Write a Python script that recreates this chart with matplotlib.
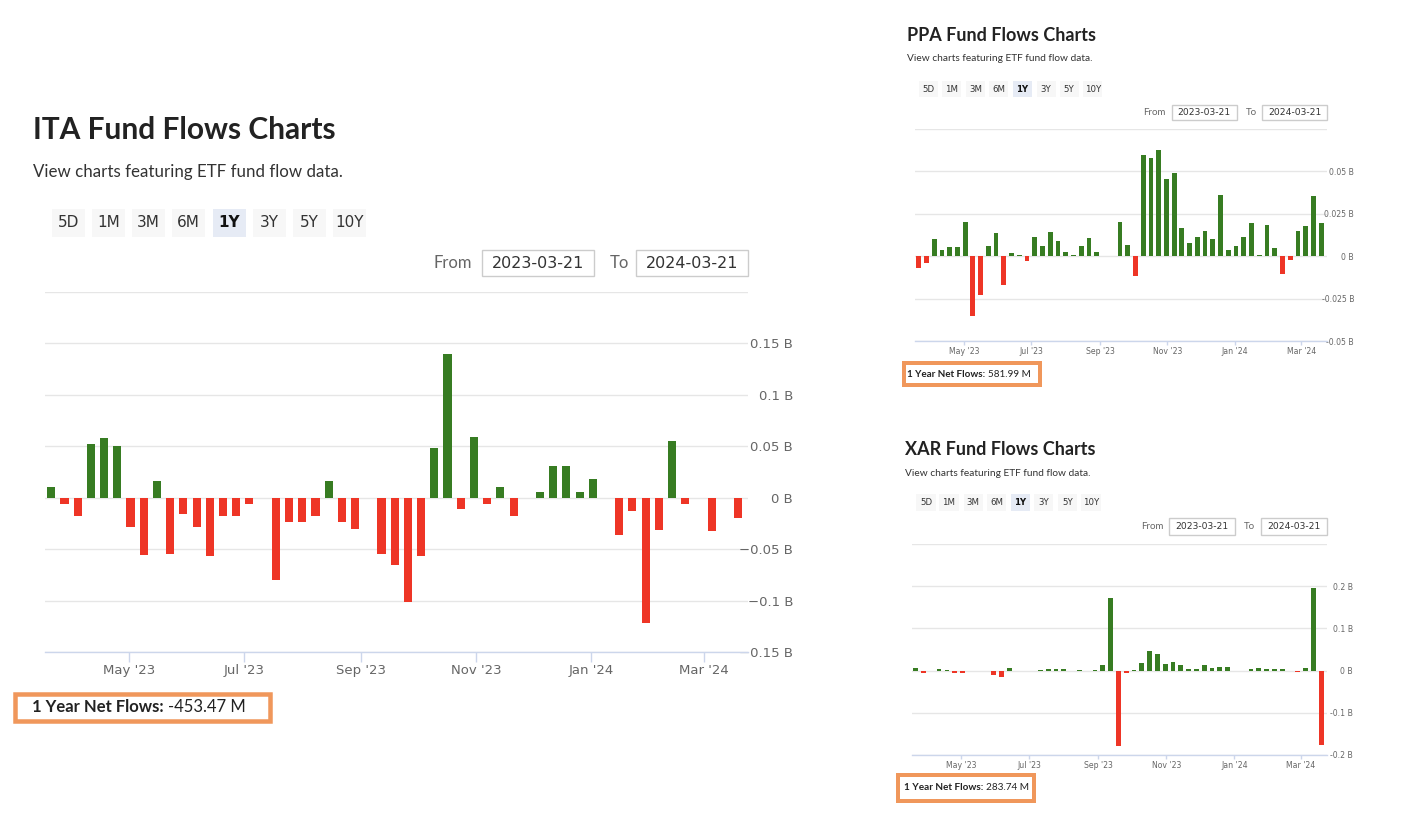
import matplotlib
matplotlib.use('Agg')
import matplotlib.pyplot as plt
import matplotlib.dates as mdates
from matplotlib.patches import Rectangle
import pandas as pd

# weekly fund flows, in billions of dollars
weeks = pd.date_range('2023-03-21', periods=53, freq='7D')

ita_flows = [0.010, -0.006, -0.018, 0.052, 0.058, 0.050, -0.028, -0.056, 0.016, -0.055,
             -0.016, -0.028, -0.057, -0.018, -0.018, -0.006, 0.0, -0.080, -0.024, -0.024,
             -0.018, 0.016, -0.024, -0.030, 0.0, -0.055, -0.065, -0.101, -0.057, 0.048,
             0.140, -0.011, 0.059, -0.006, 0.010, -0.018, 0.0, 0.006, 0.031, 0.031,
             0.006, 0.018, 0.0, -0.036, -0.013, -0.122, -0.031, 0.055, -0.006, 0.0,
             -0.032, 0.0, -0.020]

ppa_flows = [-0.0071, -0.0040, 0.0103, 0.0038, 0.0053, 0.0053, 0.0204, -0.0350, -0.0231, 0.0059,
             0.0136, -0.0168, 0.0020, 0.0008, -0.0028, 0.0115, 0.0063, 0.0140, 0.0089, 0.0024,
             0.0008, 0.0063, 0.0107, 0.0024, 0.0, 0.0, 0.0204, 0.0067, -0.0119, 0.0599,
             0.0581, 0.0624, 0.0458, 0.0490, 0.0168, 0.0077, 0.0111, 0.0146, 0.0099, 0.0360,
             0.0034, 0.0059, 0.0115, 0.0194, 0.0008, 0.0182, 0.0049, -0.0107, -0.0024, 0.0150,
             0.0176, 0.0356, 0.0194]

xar_flows = [0.007, -0.006, 0.0, 0.004, 0.001, -0.005, -0.006, 0.0, 0.0, 0.0,
             -0.010, -0.014, 0.007, 0.0, 0.0, 0.0, 0.0024, 0.003, 0.0047, 0.0047,
             0.0, 0.0024, 0.0, 0.0024, 0.0126, 0.172, -0.178, -0.006, 0.0016, 0.018,
             0.046, 0.0386, 0.0165, 0.0205, 0.014, 0.004, 0.003, 0.014, 0.0055, 0.0094,
             0.0094, 0.0, 0.0, 0.003, 0.0063, 0.003, 0.003, 0.003, 0.0, -0.004,
             0.0055, 0.195, -0.176]

month_ticks = pd.to_datetime(['2023-05-01', '2023-07-01', '2023-09-01',
                              '2023-11-01', '2024-01-01', '2024-03-01'])
month_labels = ["May '23", "Jul '23", "Sep '23", "Nov '23", "Jan '24", "Mar '24"]

ita_ticks = [-0.15, -0.1, -0.05, 0, 0.05, 0.1, 0.15, 0.2]
ita_labels = ['\u22120.15 B', '\u22120.1 B', '\u22120.05 B', '0 B', '0.05 B', '0.1 B', '0.15 B', '']
ppa_ticks = [-0.05, -0.025, 0, 0.025, 0.05, 0.075]
ppa_labels = ['-0.05 B', '-0.025 B', '0 B', '0.025 B', '0.05 B', '']
xar_ticks = [-0.2, -0.1, 0, 0.1, 0.2, 0.3]
xar_labels = ['-0.2 B', '-0.1 B', '0 B', '0.1 B', '0.2 B', '']

buttons = ['5D', '1M', '3M', '6M', '1Y', '3Y', '5Y', '10Y']
net_flows = {'ITA': '-453.47 M', 'PPA': '581.99 M', 'XAR': '283.74 M'}

GREEN = '#377c22'
RED = '#ee3526'
GRID = '#e6e6e6'
AXIS = '#ccd6eb'
GRAY = '#666666'
ORANGE = '#f0975b'

W, H = 1406, 824
fig = plt.figure(figsize=(W / 100, H / 100), dpi=100)

# overlay in pixel coordinates for the page furniture
ov = fig.add_axes([0, 0, 1, 1])
ov.set_xlim(0, W)
ov.set_ylim(H, 0)
ov.axis('off')


def px_axes(l, t, r, b):
    ax = fig.add_axes([l / W, 1 - b / H, (r - l) / W, (b - t) / H])
    ax.set_facecolor('none')
    ax.set_zorder(2)
    return ax


def header(x, y_title, y_sub, title, tsize, ssize):
    ov.text(x, y_title, title, fontfamily='Lato', fontweight='bold', fontsize=tsize,
            color='#222222', va='center', ha='left')
    ov.text(x, y_sub, 'View charts featuring ETF fund flow data.', fontfamily='Lato',
            fontsize=ssize, color='#333333', va='center', ha='left')


def button_row(centers, yc, w, h, fs):
    for name, cx in zip(buttons, centers):
        sel = name == '1Y'
        ov.add_patch(Rectangle((cx - w / 2, yc - h / 2), w, h,
                               facecolor='#e6ebf5' if sel else '#f7f7f7', edgecolor='none'))
        ov.text(cx, yc, name, fontsize=fs, ha='center', va='center',
                color='#111111' if sel else '#333333',
                fontweight='bold' if sel else 'normal', fontfamily='DejaVu Sans')


def date_range(from_x, to_x, box1, box2, yc, h, fs, lfs):
    ov.text(from_x, yc, 'From', fontfamily='Lato', fontsize=lfs, color=GRAY, ha='center', va='center')
    ov.text(to_x, yc, 'To', fontfamily='Lato', fontsize=lfs, color=GRAY, ha='center', va='center')
    for (x0, x1), txt in zip([box1, box2], ['2023-03-21', '2024-03-21']):
        ov.add_patch(Rectangle((x0, yc - h / 2), x1 - x0, h, facecolor='white',
                               edgecolor='#cccccc', lw=1))
        ov.text((x0 + x1) / 2, yc, txt, fontsize=fs, ha='center', va='center',
                color='#333333', fontfamily='DejaVu Sans')


def net_box(x0, y0, x1, y1, tx, fund, fs, lw):
    ov.add_patch(Rectangle((x0 + lw / 2, y0 + lw / 2), x1 - x0 - lw, y1 - y0 - lw,
                           facecolor='white', edgecolor=ORANGE, lw=lw * 0.72))
    yc = (y0 + y1) / 2
    t1 = ov.text(tx, yc, '1 Year Net Flows: ', fontfamily='Lato', fontweight='bold',
                 fontsize=fs, color='#222222', ha='left', va='center')
    ov.annotate(net_flows[fund], xy=(1, 0), xycoords=t1, fontfamily='Lato', fontsize=fs,
                color='#222222', ha='left', va='bottom')


def flows_chart(ax, values, ticks, labels, fs, pad_px, ticklen):
    x = mdates.date2num(weeks)
    colors = [GREEN if v >= 0 else RED for v in values]
    ax.bar(x, values, width=4.3, color=colors, zorder=3)
    ax.set_xlim(mdates.date2num(pd.Timestamp('2023-03-17 16:00')),
                mdates.date2num(pd.Timestamp('2024-03-24 06:00')))
    ax.set_ylim(ticks[0], ticks[-1])
    ax.yaxis.tick_right()
    ax.set_yticks(ticks)
    ax.set_yticklabels(labels)
    for lbl in ax.get_yticklabels():
        lbl.set_ha('right')
    ax.tick_params(axis='y', length=0, pad=pad_px * 0.72, labelsize=fs, labelcolor=GRAY)
    ax.grid(axis='y', color=GRID, lw=1, zorder=0)
    ax.set_axisbelow(True)
    ax.set_xticks(mdates.date2num(month_ticks))
    ax.set_xticklabels(month_labels)
    ax.tick_params(axis='x', length=ticklen * 0.72, width=1, color=AXIS, labelsize=fs,
                   labelcolor=GRAY, pad=1.5)
    for s in ['top', 'left', 'right']:
        ax.spines[s].set_visible(False)
    ax.spines['bottom'].set_color(AXIS)
    ax.spines['bottom'].set_linewidth(1)


# ---- ITA (large, left) ----
header(33, 130, 172, 'ITA Fund Flows Charts', 21.5, 12.2)
button_row([68.5, 108.5, 148.5, 188.5, 229, 269.5, 309.5, 349.5], 222.5, 33, 28, 11)
date_range(453, 619, (482, 594), (636, 748), 263, 26, 11.5, 12)
ax1 = px_axes(45, 292, 748, 652)
flows_chart(ax1, ita_flows, ita_ticks, ita_labels, 9.5, 45, 10)
net_box(13, 692, 272, 723, 32, 'ITA', 12, 4.5)

# ---- PPA (top right) ----
header(907, 35, 58, 'PPA Fund Flows Charts', 13, 7.3)
button_row([928.7, 951.7, 975.5, 998.7, 1022, 1046, 1069, 1092.7], 89, 19, 16, 6.2)
date_range(1154, 1251, (1171.7, 1236.7), (1262, 1327), 112.5, 15, 6.6, 7)
ax2 = px_axes(915, 129, 1327, 341)
flows_chart(ax2, ppa_flows, ppa_ticks, ppa_labels, 5.6, 27, 4)
net_box(902, 361, 1042, 387, 907, 'PPA', 7.1, 4)

# ---- XAR (bottom right) ----
header(905, 449, 473, 'XAR Fund Flows Charts', 13, 7.3)
button_row([926, 949, 973.3, 996.7, 1020.3, 1043.7, 1067.5, 1091], 502.5, 19.5, 17, 6.2)
date_range(1152.5, 1249, (1169, 1235), (1261, 1327), 526.5, 17, 6.6, 7)
ax3 = px_axes(912, 544, 1327, 755)
flows_chart(ax3, xar_flows, xar_ticks, xar_labels, 5.6, 26, 4)
net_box(896, 773, 1036, 803, 904, 'XAR', 7.2, 4)

fig.savefig('out.png', dpi=100)
